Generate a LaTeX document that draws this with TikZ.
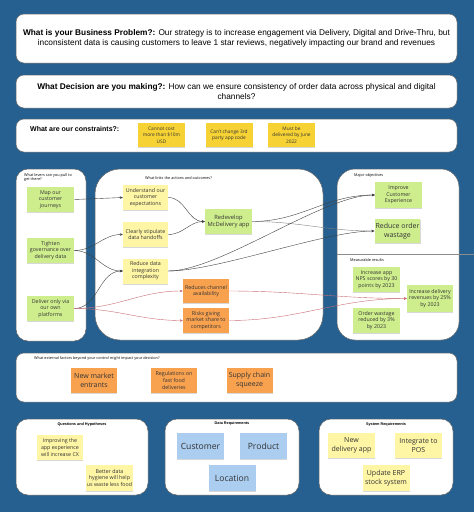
\documentclass[tikz,border=0pt]{standalone}
\usepackage{fontspec}
\setmainfont{Open Sans}
\newfontfamily\headfont{Liberation Sans}
\usetikzlibrary{arrows.meta,shadows}

\definecolor{bgblue}{RGB}{37,96,144}
\definecolor{stickyyellow}{RGB}{246,210,52}
\definecolor{paleyellow}{RGB}{254,245,165}
\definecolor{stickygreen}{RGB}{206,238,142}
\definecolor{stickyorange}{RGB}{248,162,80}
\definecolor{stickyblue}{RGB}{170,205,240}
\definecolor{linkred}{RGB}{200,110,115}

\tikzset{
  panel/.style={fill=white, draw=black!60, line width=0.5pt, rounded corners=#1},
  panel/.default=8pt,
  note/.style={minimum width=47pt, minimum height=25pt, inner sep=1pt, align=center,
    text=black!80, font=\fontsize{5.3}{6.6}\selectfont,
    drop shadow={opacity=0.3, shadow xshift=0.4pt, shadow yshift=-1.4pt}},
  yellownote/.style={note, fill=stickyyellow},
  palenote/.style={note, fill=paleyellow},
  greennote/.style={note, fill=stickygreen},
  orangenote/.style={note, fill=stickyorange},
  bluenote/.style={note, fill=stickyblue, font=\fontsize{8.6}{10}\selectfont},
  tinylabel/.style={font=\fontsize{3.8}{4.6}\selectfont, inner sep=0pt, align=left},
  headlabel/.style={font=\headfont\bfseries\fontsize{3.8}{4.6}\selectfont, inner sep=0pt},
  link/.style={draw=black!75, line width=0.4pt, -{Stealth[length=3pt,width=2.6pt]}},
  redlink/.style={draw=linkred, line width=0.4pt, -{Stealth[length=3pt,width=2.6pt]}}
}

\begin{document}
\begin{tikzpicture}[x=1pt,y=-1pt]
\fill[bgblue] (0,0) rectangle (474,512);
\useasboundingbox (0,0) rectangle (474,512);

% top boxes
\draw[panel] (16,14) rectangle (457,63);
\node[font=\headfont\fontsize{8.3}{10.2}\selectfont, align=center] (problem) at (236.5,38.5)
  {\textbf{What is your Business Problem?:} Our strategy is to increase engagement via Delivery, Digital and Drive-Thru, but\\
   inconsistent data is causing customers to leave 1 star reviews, negatively impacting our brand and revenues};
\draw[panel] (16,75) rectangle (457,108);
\node[font=\headfont\fontsize{8.3}{10.2}\selectfont, align=center] (decision) at (236.5,91.5)
  {\textbf{What Decision are you making?:} How can we ensure consistency of order data across physical and digital\\
   channels?};
\draw[panel] (16,119) rectangle (457,152);
\node[font=\headfont\bfseries\fontsize{7}{8}\selectfont, anchor=west, inner sep=0pt] (constr) at (30,129)
  {What are our constraints?:};
\node[yellownote, minimum height=24pt, font=\fontsize{4.8}{6.4}\selectfont] (c1) at (161.5,135) {Cannot cost\\more than \$10m\\USD};
\node[yellownote, minimum height=24pt, font=\fontsize{4.8}{6.4}\selectfont] (c2) at (229,135) {Can't change 3rd\\party app code};
\node[yellownote, minimum height=24pt, font=\fontsize{4.8}{6.4}\selectfont] (c3) at (291.5,135) {Must be\\delivered by June\\2022};

% middle row
\draw[panel=12pt] (16,169) rectangle (86,341);
\draw[panel=25pt] (95,169) rectangle (323,340);
\draw[panel=18pt] (337,169) rectangle (459,340);
\draw[black!45, line width=0.5pt] (337,254) -- (474,254);

\node[tinylabel, anchor=north west] (levers) at (24,173) {What levers can you pull to\\get there?};
\node[tinylabel, anchor=west] (linkslbl) at (145,178) {What links the actions and outcomes?};
\node[tinylabel, anchor=west] (objlbl) at (354,176) {Major objectives};
\node[tinylabel, anchor=west] (reslbl) at (350,260) {Measurable results};

\node[greennote] (lv1) at (50.5,199.5) {Map our\\customer\\journeys};
\node[greennote] (lv2) at (50.5,250.5) {Tighten\\governance over\\delivery data};
\node[greennote] (lv3) at (50.5,308.5) {Deliver only via\\our own\\platforms};

\node[palenote, minimum width=45pt] (lk1) at (145.5,197.5) {Understand our\\customer\\expectations};
\node[palenote, minimum width=45pt] (lk2) at (145.5,234.5) {Clearly stipulate\\data handoffs};
\node[palenote, minimum width=45pt] (lk3) at (145.5,271) {Reduce data\\integration\\complexity};
\node[greennote, font=\fontsize{5.8}{7.6}\selectfont] (app) at (228.5,221.5) {Redevelop\\McDelivery app};
\node[orangenote, minimum width=46pt, minimum height=24pt] (or1) at (206,291) {Reduces channel\\availability};
\node[orangenote, minimum width=46pt] (or2) at (206,320.5) {Risks giving\\market share to\\competitors};

\node[greennote, minimum height=26pt] (ob1) at (398.5,195) {Improve\\Customer\\Experience};
\node[greennote, minimum width=45pt, minimum height=24pt, font=\fontsize{7}{9}\selectfont] (ob2) at (397.5,231) {Reduce order\\wastage};
\node[greennote] (rs1) at (376.5,279.5) {Increase app\\NPS scores by 30\\points by 2023};
\node[greennote, minimum width=46pt, minimum height=27pt] (rs2) at (430,298.5) {Increase delivery\\revenues by 25\%\\by 2023};
\node[greennote] (rs3) at (376.5,320.5) {Order wastage\\reduced by 3\%\\by 2023};

% connectors
\draw[link] (lv1.east) -- (lk1.west);
\draw[link] (lv2.east) to[out=0,in=180] (lk2.west);
\draw[link] (lv2.east) to[out=0,in=180] (lk3.west);
\draw[link] (lv3.east) to[out=0,in=180] (lk3.west);
\draw[redlink] (lv3.east) to[out=0,in=180] (or1.west);
\draw[redlink] (lv3.east) to[out=0,in=180] (or2.west);
\draw[link] (lk1.east) to[out=0,in=180] (app.west);
\draw[link] (lk2.east) to[out=0,in=180] (app.west);
\draw[link] (app.east) to[out=0,in=180] (ob1.west);
\draw[link, draw=black!50] (app.east) to[out=0,in=180] (ob2.west);
\draw[link] (lk3.east) to[out=0,in=180,looseness=0.6] (ob1.west);
\draw[link] (lk3.east) to[out=0,in=180,looseness=0.6] (ob2.west);
\draw[redlink] (or1.east) to[out=0,in=180] (rs2.west);
\draw[redlink] (or2.east) to[out=0,in=180] (rs2.west);

% external factors
\draw[panel] (16,353) rectangle (457,402);
\node[tinylabel, anchor=west] (extlbl) at (34,358) {What external factors beyond your control might impact your decision?};
\node[orangenote, minimum width=46pt, font=\fontsize{7}{9}\selectfont] (ex1) at (94,380.5) {New market\\entrants};
\node[orangenote, minimum width=46pt] (ex2) at (174,380.5) {Regulations on\\fast food\\deliveries};
\node[orangenote, minimum width=46pt, font=\fontsize{7}{9}\selectfont] (ex3) at (249.5,380.5) {Supply chain\\squeeze};

% bottom row
\draw[panel=12pt] (16,419) rectangle (148,495);
\draw[panel=12pt] (165,419) rectangle (299,495);
\draw[panel=12pt] (319,419) rectangle (453,495);
\node[headlabel] (qlbl) at (82,425) {Questions and Hypotheses};
\node[headlabel] (dlbl) at (232,424) {Data Requirements};
\node[headlabel] (slbl) at (386,425) {System Requirements};

\node[palenote, minimum width=46pt] (q1) at (60,447.5) {Improving the\\app experience\\will increase CX};
\node[palenote, minimum height=26pt] (q2) at (109.5,478) {Better data\\hygiene will help\\us waste less food};

\node[bluenote, minimum height=26pt] (d1) at (200.5,446) {Customer};
\node[bluenote, minimum height=26pt] (d2) at (263.5,446) {Product};
\node[bluenote, minimum height=26pt] (d3) at (232,478) {Location};

\node[palenote, font=\fontsize{7}{9}\selectfont] (s1) at (351.5,445.5) {New\\delivery app};
\node[palenote, font=\fontsize{7}{9}\selectfont] (s2) at (418.5,445.5) {Integrate to\\POS};
\node[palenote, minimum height=26pt, font=\fontsize{7}{9}\selectfont] (s3) at (386,478) {Update ERP\\stock system};
\end{tikzpicture}
\end{document}
